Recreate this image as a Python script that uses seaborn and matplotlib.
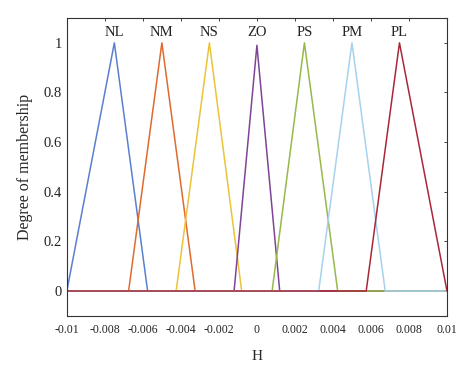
import numpy as np
import pandas as pd
import seaborn as sns
import matplotlib
matplotlib.use("Agg")
import matplotlib.pyplot as plt

# triangular membership functions: (left, peak, right)
labels = ['NL', 'NM', 'NS', 'ZO', 'PS', 'PM', 'PL']
lefts = [-0.01, -0.00675, -0.00425, -0.0012, 0.0008, 0.00325, 0.00575]
peaks = [-0.0075, -0.005, -0.0025, 0.0, 0.0025, 0.005, 0.0075]
rights = [-0.00575, -0.00325, -0.0008, 0.0012, 0.00425, 0.00675, 0.01]
peak_heights = [1, 1, 1, 0.99, 1, 1, 1]
colors = ['#5b7fcf', '#de6a2e', '#ecc23a', '#7f4497', '#97b84a', '#a6d2ee', '#a8283a']

x_min, x_max = -0.01, 0.01

rows = []
for name, a, b, c, h in zip(labels, lefts, peaks, rights, peak_heights):
    xs = [x_min, a, b, c, x_max]
    ys = [0, 0, h, 0, 0]
    for xv, yv in zip(xs, ys):
        rows.append({'H': xv, 'mu': yv, 'set': name})
df = pd.DataFrame(rows)

sns.set_style('white')
plt.rcParams['font.family'] = ['Liberation Serif', 'DejaVu Serif']

fig, ax = plt.subplots(figsize=(4.74, 3.76), dpi=100)
sns.lineplot(data=df, x='H', y='mu', hue='set', palette=colors, sort=False,
             estimator=None, linewidth=1.1, legend=False, ax=ax)

for name, b in zip(labels, peaks):
    ax.text(b, 1.04, name, ha='center', va='center', fontsize=10.5, color='#222222')

ax.set_xlim(x_min, x_max)
ax.set_ylim(-0.1, 1.1)
ax.set_xticks(np.arange(-0.01, 0.0101, 0.002))
ax.set_xticklabels(['-0.01', '-0.008', '-0.006', '-0.004', '-0.002', '0',
                    '0.002', '0.004', '0.006', '0.008', '0.01'], fontsize=8.5)
ax.set_yticks([0, 0.2, 0.4, 0.6, 0.8, 1])
ax.set_yticklabels(['0', '0.2', '0.4', '0.6', '0.8', '1'], fontsize=10.5)
ax.tick_params(direction='in', top=True, right=True, length=2.5, width=0.6, colors='#222222')
ax.tick_params(axis='x', pad=6)
for sp in ax.spines.values():
    sp.set_color('#333333')
    sp.set_linewidth(0.8)
ax.set_xlabel('H', fontsize=11, labelpad=10)
ax.set_ylabel('Degree of membership', fontsize=11.5, labelpad=8)

fig.subplots_adjust(left=0.141, right=0.943, top=0.952, bottom=0.16)
fig.savefig('out.png', dpi=100)
